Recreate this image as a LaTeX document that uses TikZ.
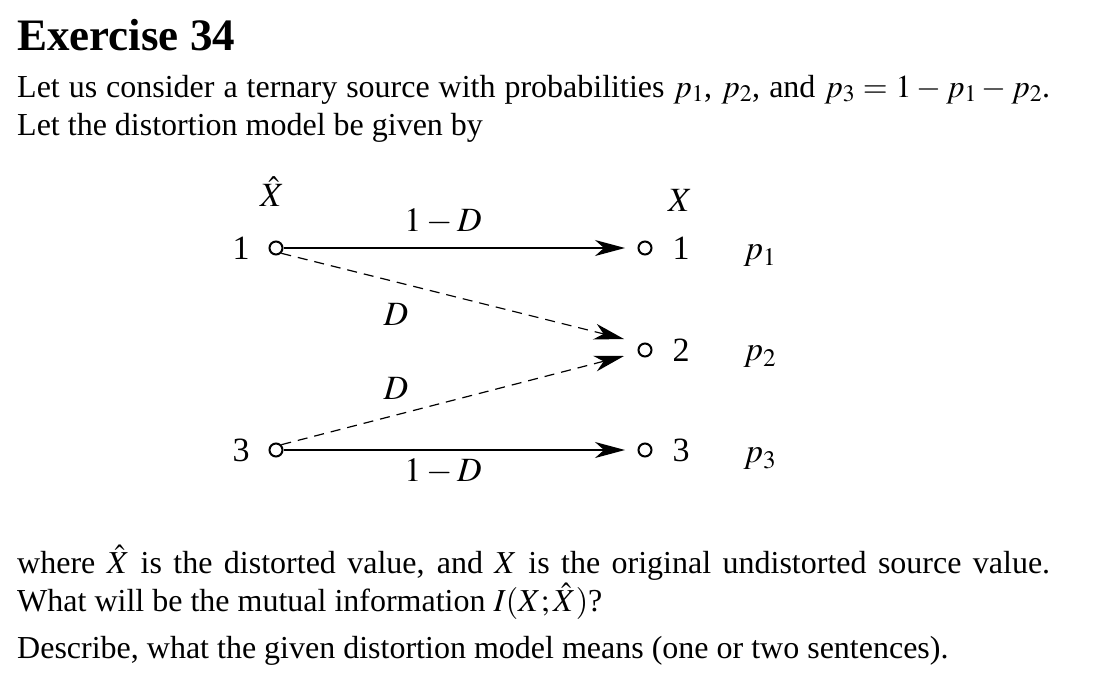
\documentclass[tikz,border=0pt]{standalone}
\usepackage{mathptmx}
\usepackage[no-math]{fontspec}
\setmainfont{Liberation Serif}
\usetikzlibrary{arrows.meta}
\begin{document}
\begin{tikzpicture}[x=1pt,y=-1pt,
  txt/.style={anchor=base west,inner sep=0,font=\fontsize{32}{36}\selectfont},
  lab/.style={inner sep=0,font=\fontsize{34}{38}\selectfont},
  dot/.style={circle,draw,line width=2pt,minimum size=13pt,inner sep=0},
  arr/.style={line width=1.2pt,-{Stealth[length=30pt,width=16pt,inset=9pt]}},
  dsh/.style={arr,dash pattern=on 10pt off 7pt}]
\useasboundingbox (0,0) rectangle (1095,686);
\node[txt,font=\fontsize{45}{48}\selectfont\bfseries] (t) at (17,50) {Exercise 34};
\node[txt] (l1) at (17,97) {\makebox[1033pt][s]{Let us consider a ternary source with probabilities $p_1$, $p_2$, and $p_3=1-p_1-p_2$.}};
\node[txt] (l2) at (17,135) {Let the distortion model be given by};
\node[txt] (l3) at (17,573) {\makebox[1033pt][s]{where $\hat X$ is the distorted value, and $X$ is the original undistorted source value.}};
\node[txt] (l4) at (17,611) {What will be the mutual information $I(X;\hat X)$?};
\node[txt] (l5) at (17,658) {Describe, what the given distortion model means (one or two sentences).};
\node[dot] (a1) at (276,248) {};
\node[dot] (a3) at (276,450) {};
\node[dot] (b1) at (645,248) {};
\node[dot] (b2) at (645,350) {};
\node[dot] (b3) at (645,450) {};
\node[lab] (n1) at (241,248) {1};
\node[lab] (n3) at (241,450) {3};
\node[lab] (m1) at (681,248) {1};
\node[lab] (m2) at (681,350) {2};
\node[lab] (m3) at (681,450) {3};
\node[lab] (p1) at (760,256) {$p_1$};
\node[lab] (p2) at (760,357) {$p_2$};
\node[lab] (p3) at (760,459) {$p_3$};
\node[lab] (xh) at (272,192) {$\hat X$};
\node[lab] (x) at (680,200) {$X$};
\node[lab] (d1) at (443,222) {$1-D$};
\node[lab] (d2) at (443,472) {$1-D$};
\node[lab] (e1) at (396,314) {$D$};
\node[lab] (e2) at (396,388) {$D$};
\coordinate (c1) at (625,248);
\coordinate (c3) at (625,450);
\coordinate (c2a) at (624,339);
\coordinate (c2b) at (624,356);
\draw[arr] (a1) -- (c1);
\draw[arr] (a3) -- (c3);
\draw[dsh] (a1.south east) -- (c2a);
\draw[dsh] (a3.north east) -- (c2b);
\end{tikzpicture}
\end{document}
